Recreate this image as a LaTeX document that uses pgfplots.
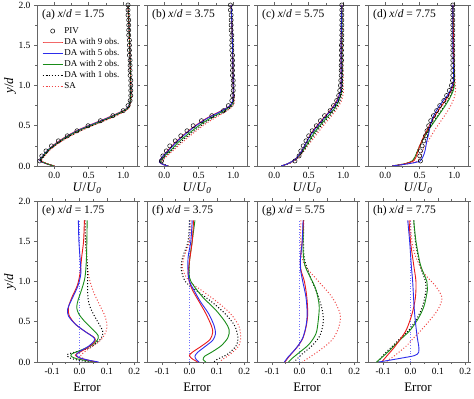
\documentclass[border=0pt]{standalone}
\usepackage{fontspec}
\setmainfont{Liberation Serif}
\usepackage{pgfplots}
\pgfplotsset{compat=1.18}
\definecolor{cRed}{RGB}{235,25,25}
\definecolor{cBlue}{RGB}{45,45,235}
\definecolor{cGreen}{RGB}{25,140,25}
\definecolor{cSA}{RGB}{240,70,70}
\pgfplotsset{
  base/.style={
    scale only axis, width=100pt, height=161pt,
    ymin=0, ymax=2, ytick={0,0.5,1,1.5,2}, minor y tick num=1,
    tick align=outside,
    axis line style={black!60, line width=0.8pt},
    tick style={black!60, line width=0.6pt},
    major tick length=3pt, minor tick length=1.8pt,
    tick label style={font=\fontsize{9.5}{11}\selectfont},
    /pgf/number format/fixed, /pgf/number format/fixed zerofill,
    /pgf/number format/precision=1, /pgf/number format/assume math mode=true,
    label style={font=\fontsize{13}{15}\selectfont},
    clip=true,
  },
  toprow/.style={base, xmin=-0.25, xmax=1.2, xtick={0,0.5,1}, minor x tick num=1,
    xlabel={\textit{U}/\textit{U}\textsubscript{\textit{0}}}, xlabel style={yshift=3pt}},
  botrow/.style={base, xmin=-0.155, xmax=0.21, xtick={-0.1,0,0.1,0.2}, minor x tick num=1,
    xlabel={Error}, xlabel style={yshift=-1pt}},
  first/.style={ylabel={\textit{y}/\textit{d}}, ylabel style={at={(rel axis cs:-0.27,0.5)}, anchor=center, rotate=0}},
  other/.style={yticklabels={}},
  piv/.style={only marks, mark=o, mark size=2.1pt, black, mark options={line width=0.5pt}},
  da9/.style={cRed, line width=0.9pt, no marks, smooth, tension=0.5},
  da5/.style={cBlue, line width=0.9pt, no marks, smooth, tension=0.5},
  da2/.style={cGreen, line width=0.9pt, no marks, smooth, tension=0.5},
  da1/.style={black, dotted, line width=1pt, no marks, smooth, tension=0.5},
  sa/.style={cSA, dotted, line width=1pt, no marks, smooth, tension=0.5},
  zl/.style={blue!55, dotted, line width=0.7pt, no marks},
}
\newcommand{\plabel}[1]{\node[anchor=north west, inner sep=0pt, font=\fontsize{11.5}{13}\selectfont] at (rel axis cs:0.05,0.975) {#1};}
\begin{document}
\begin{tikzpicture}
\useasboundingbox (0,0) rectangle (474pt,399pt);
% ---------------- (a)
\begin{axis}[toprow, first, at={(37pt,233pt)}, anchor=south west,
  legend style={at={(rel axis cs:0.05,0.87)}, anchor=north west, draw=none, fill=none,
    font=\fontsize{9}{10}\selectfont, row sep=1pt, inner sep=0pt,
    nodes={inner sep=1.2pt}},
  legend cell align=left,
  legend image code/.code={\draw[mark repeat=2,mark phase=2,#1] plot coordinates {(0pt,0pt) (10pt,0pt) (20pt,0pt)};}]
\addplot[piv] coordinates {(-0.21,0.0625) (-0.18,0.125) (-0.12,0.1875) (-0.04,0.25) (0.06,0.3125) (0.19,0.375) (0.33,0.4375) (0.49,0.5) (0.67,0.5625) (0.85,0.625) (1.00,0.6875) (1.07,0.75) (1.10,0.8125) (1.11,0.875) (1.11,0.9375) (1.11,1.0) (1.11,1.0625) (1.10,1.125) (1.10,1.1875) (1.10,1.25) (1.10,1.3125) (1.09,1.375) (1.09,1.4375) (1.09,1.5) (1.09,1.5625) (1.08,1.625) (1.08,1.6875) (1.08,1.75) (1.08,1.8125) (1.07,1.875) (1.07,1.9375) (1.07,2.0)};
\addlegendentry{PIV}
\addplot[da9] coordinates {(0,0) (-0.12,0.03) (-0.21,0.07) (-0.17,0.12) (-0.09,0.2) (0.02,0.28) (0.16,0.36) (0.33,0.44) (0.52,0.51) (0.72,0.58) (0.92,0.655) (1.06,0.72) (1.10,0.8) (1.11,0.9) (1.11,1.0) (1.10,1.3) (1.09,1.6) (1.07,2.0)};
\addlegendentry{DA with 9 obs.}
\addplot[da5] coordinates {(0,0) (-0.12,0.03) (-0.21,0.07) (-0.17,0.12) (-0.09,0.2) (0.03,0.28) (0.17,0.36) (0.34,0.44) (0.53,0.51) (0.73,0.58) (0.93,0.655) (1.06,0.72) (1.10,0.8) (1.11,0.9) (1.11,1.0) (1.10,1.3) (1.09,1.6) (1.07,2.0)};
\addlegendentry{DA with 5 obs.}
\addplot[da2] coordinates {(0,0) (-0.11,0.03) (-0.20,0.07) (-0.16,0.12) (-0.08,0.2) (0.04,0.28) (0.18,0.36) (0.36,0.44) (0.55,0.51) (0.75,0.58) (0.94,0.655) (1.07,0.72) (1.10,0.8) (1.11,0.9) (1.11,1.0) (1.10,1.3) (1.09,1.6) (1.07,2.0)};
\addlegendentry{DA with 2 obs.}
\addplot[da1] coordinates {(0,0) (-0.11,0.03) (-0.20,0.07) (-0.15,0.12) (-0.07,0.2) (0.05,0.28) (0.20,0.36) (0.38,0.44) (0.57,0.51) (0.77,0.58) (0.96,0.655) (1.08,0.72) (1.11,0.8) (1.11,0.9) (1.11,1.0) (1.10,1.3) (1.09,1.6) (1.07,2.0)};
\addlegendentry{DA with 1 obs.}
\addplot[sa] coordinates {(0,0) (-0.10,0.03) (-0.19,0.07) (-0.14,0.12) (-0.06,0.2) (0.06,0.28) (0.21,0.36) (0.39,0.44) (0.58,0.51) (0.78,0.58) (0.97,0.655) (1.08,0.72) (1.11,0.8) (1.12,0.9) (1.11,1.0) (1.10,1.3) (1.09,1.6) (1.07,2.0)};
\addlegendentry{SA}
\plabel{(a) \textit{x}/\textit{d} = 1.75}
\end{axis}
% ---------------- (b)
\begin{axis}[toprow, other, at={(147pt,233pt)}, anchor=south west]
\addplot[piv] coordinates {(-0.04,0.0625) (-0.02,0.125) (0.03,0.1875) (0.08,0.25) (0.16,0.3125) (0.24,0.375) (0.33,0.4375) (0.42,0.5) (0.54,0.5625) (0.69,0.625) (0.86,0.6875) (0.93,0.75) (0.98,0.8125) (0.99,0.875) (1.0,0.9375) (1.0,1.0) (1.0,1.0625) (0.99,1.125) (0.99,1.1875) (0.99,1.25) (0.99,1.3125) (0.99,1.375) (0.98,1.4375) (0.98,1.5) (0.98,1.5625) (0.98,1.625) (0.97,1.6875) (0.97,1.75) (0.97,1.8125) (0.97,1.875) (0.96,1.9375) (0.96,2.0)};
\addplot[sa] coordinates {(0.06,0) (0.0,0.02) (-0.04,0.05) (0.0,0.09) (0.06,0.14) (0.14,0.2) (0.27,0.3) (0.41,0.4) (0.56,0.5) (0.72,0.59) (0.88,0.67) (0.99,0.74) (1.02,0.8) (1.01,0.9) (1.0,1.0) (0.99,1.5) (0.97,2.0)};
\addplot[da1] coordinates {(0.06,0) (0.0,0.02) (-0.05,0.05) (-0.02,0.09) (0.04,0.14) (0.12,0.2) (0.24,0.3) (0.38,0.4) (0.53,0.5) (0.69,0.59) (0.86,0.67) (0.98,0.74) (1.01,0.8) (1.01,0.9) (1.0,1.0) (0.99,1.5) (0.97,2.0)};
\addplot[da2] coordinates {(0.05,0) (-0.01,0.02) (-0.06,0.05) (-0.03,0.09) (0.02,0.14) (0.10,0.2) (0.21,0.3) (0.35,0.4) (0.50,0.5) (0.66,0.59) (0.83,0.67) (0.96,0.74) (1.0,0.8) (1.0,0.9) (1.0,1.0) (0.99,1.5) (0.97,2.0)};
\addplot[da9] coordinates {(0.05,0) (-0.02,0.02) (-0.07,0.05) (-0.05,0.09) (0.0,0.14) (0.06,0.2) (0.17,0.3) (0.30,0.4) (0.45,0.5) (0.61,0.59) (0.79,0.67) (0.94,0.74) (0.99,0.8) (1.0,0.9) (1.0,1.0) (0.99,1.5) (0.97,2.0)};
\addplot[da5] coordinates {(0.05,0) (-0.02,0.02) (-0.07,0.05) (-0.05,0.09) (0.0,0.14) (0.07,0.2) (0.18,0.3) (0.31,0.4) (0.46,0.5) (0.62,0.59) (0.80,0.67) (0.94,0.74) (0.99,0.8) (1.0,0.9) (1.0,1.0) (0.99,1.5) (0.97,2.0)};
\plabel{(b) \textit{x}/\textit{d} = 3.75}
\end{axis}
% ---------------- (c)
\begin{axis}[toprow, other, at={(257pt,233pt)}, anchor=south west]
\addplot[piv] coordinates {(0.30,0.0625) (0.36,0.125) (0.385,0.1875) (0.42,0.25) (0.46,0.3125) (0.50,0.375) (0.55,0.4375) (0.61,0.5) (0.67,0.5625) (0.73,0.625) (0.81,0.6875) (0.86,0.75) (0.905,0.8125) (0.935,0.875) (0.95,0.9375) (0.96,1.0) (0.965,1.0625) (0.97,1.125) (0.97,1.1875) (0.97,1.25) (0.975,1.3125) (0.975,1.375) (0.975,1.4375) (0.975,1.5) (0.98,1.5625) (0.98,1.625) (0.98,1.6875) (0.98,1.75) (0.98,1.8125) (0.98,1.875) (0.98,1.9375) (0.98,2.0)};
\addplot[sa] coordinates {(0.1,0) (0.22,0.03) (0.32,0.08) (0.40,0.15) (0.46,0.22) (0.53,0.3) (0.62,0.4) (0.71,0.5) (0.81,0.6) (0.90,0.7) (0.97,0.8) (1.0,0.9) (1.0,1.0) (0.99,1.5) (0.98,2.0)};
\addplot[da1] coordinates {(0.1,0) (0.21,0.03) (0.31,0.08) (0.39,0.15) (0.45,0.22) (0.51,0.3) (0.59,0.4) (0.68,0.5) (0.78,0.6) (0.88,0.7) (0.95,0.8) (0.98,0.9) (0.99,1.0) (0.98,1.5) (0.98,2.0)};
\addplot[da2] coordinates {(0.1,0) (0.2,0.03) (0.3,0.08) (0.38,0.15) (0.44,0.22) (0.50,0.3) (0.57,0.4) (0.66,0.5) (0.76,0.6) (0.86,0.7) (0.93,0.8) (0.97,0.9) (0.98,1.0) (0.98,1.5) (0.98,2.0)};
\addplot[da9] coordinates {(0.1,0) (0.2,0.03) (0.3,0.08) (0.37,0.15) (0.42,0.22) (0.47,0.3) (0.53,0.4) (0.62,0.5) (0.72,0.6) (0.82,0.7) (0.90,0.8) (0.95,0.9) (0.97,1.0) (0.97,1.5) (0.98,2.0)};
\addplot[da5] coordinates {(0.1,0) (0.2,0.03) (0.3,0.08) (0.37,0.15) (0.42,0.22) (0.47,0.3) (0.54,0.4) (0.63,0.5) (0.73,0.6) (0.83,0.7) (0.91,0.8) (0.95,0.9) (0.97,1.0) (0.97,1.5) (0.98,2.0)};
\plabel{(c) \textit{x}/\textit{d} = 5.75}
\end{axis}
% ---------------- (d)
\begin{axis}[toprow, other, at={(368pt,233pt)}, anchor=south west]
\addplot[piv] coordinates {(0.51,0.0625) (0.50,0.125) (0.51,0.1875) (0.535,0.25) (0.56,0.3125) (0.585,0.375) (0.605,0.4375) (0.63,0.5) (0.66,0.5625) (0.70,0.625) (0.745,0.6875) (0.79,0.75) (0.85,0.8125) (0.89,0.875) (0.93,0.9375) (0.96,1.0) (0.975,1.0625) (0.98,1.125) (0.98,1.1875) (0.98,1.25) (0.98,1.3125) (0.98,1.375) (0.98,1.4375) (0.98,1.5) (0.98,1.5625) (0.98,1.625) (0.98,1.6875) (0.98,1.75) (0.98,1.8125) (0.98,1.875) (0.98,1.9375) (0.98,2.0)};
\addplot[sa] coordinates {(0.1,0) (0.35,0.03) (0.48,0.07) (0.52,0.15) (0.58,0.25) (0.65,0.35) (0.72,0.45) (0.80,0.55) (0.88,0.65) (0.95,0.75) (1.0,0.85) (1.02,0.95) (1.01,1.1) (0.99,1.5) (0.98,2.0)};
\addplot[da1] coordinates {(0.1,0) (0.3,0.03) (0.40,0.07) (0.45,0.15) (0.50,0.25) (0.56,0.35) (0.62,0.45) (0.70,0.55) (0.78,0.65) (0.86,0.75) (0.93,0.85) (0.98,0.95) (1.0,1.05) (0.99,1.5) (0.98,2.0)};
\addplot[da2] coordinates {(0.1,0) (0.3,0.03) (0.40,0.07) (0.45,0.15) (0.50,0.25) (0.56,0.35) (0.63,0.45) (0.71,0.55) (0.79,0.65) (0.87,0.75) (0.94,0.85) (0.99,0.95) (1.0,1.05) (0.99,1.5) (0.98,2.0)};
\addplot[da9] coordinates {(0.1,0) (0.3,0.03) (0.42,0.07) (0.46,0.15) (0.50,0.25) (0.55,0.35) (0.61,0.45) (0.67,0.55) (0.74,0.65) (0.82,0.75) (0.90,0.85) (0.96,0.95) (0.99,1.05) (0.99,1.5) (0.98,2.0)};
\addplot[da5] coordinates {(0.1,0) (0.35,0.03) (0.50,0.06) (0.55,0.12) (0.58,0.2) (0.60,0.3) (0.63,0.4) (0.65,0.5) (0.69,0.6) (0.75,0.7) (0.83,0.8) (0.92,0.9) (0.97,1.0) (0.99,1.1) (0.98,1.5) (0.98,2.0)};
\plabel{(d) \textit{x}/\textit{d} = 7.75}
\end{axis}
% ---------------- (e)
\begin{axis}[botrow, first, at={(37pt,37pt)}, anchor=south west]
\addplot[zl] coordinates {(0,0) (0,1.76)};
\addplot[sa] coordinates {(0.02,1.76) (0.022,1.5) (0.027,1.25) (0.035,1.05) (0.05,0.88) (0.072,0.72) (0.092,0.58) (0.1,0.47) (0.097,0.38) (0.08,0.28) (0.05,0.2) (0.02,0.13) (0.005,0.08) (0.015,0.04) (0.045,0.0)};
\addplot[da1] coordinates {(0.02,1.76) (0.022,1.5) (0.028,1.25) (0.03,1.05) (0.03,0.85) (0.035,0.72) (0.05,0.6) (0.07,0.48) (0.085,0.38) (0.08,0.3) (0.06,0.23) (0.025,0.16) (-0.02,0.12) (-0.045,0.09) (-0.035,0.05) (0.0,0.02) (0.04,0.0)};
\addplot[da2] coordinates {(0.028,1.76) (0.027,1.5) (0.025,1.25) (0.02,1.05) (0.008,0.9) (-0.005,0.77) (-0.01,0.68) (-0.003,0.6) (0.02,0.5) (0.05,0.4) (0.068,0.33) (0.065,0.27) (0.04,0.2) (0.0,0.14) (-0.028,0.1) (-0.03,0.07) (-0.01,0.04) (0.03,0.015) (0.06,0.0)};
\addplot[da9] coordinates {(0.018,1.76) (0.015,1.5) (0.008,1.3) (0.002,1.1) (-0.008,0.95) (-0.028,0.8) (-0.04,0.68) (-0.038,0.58) (-0.015,0.47) (0.02,0.38) (0.055,0.3) (0.055,0.25) (0.03,0.18) (0.0,0.12) (-0.015,0.085) (0.0,0.05) (0.035,0.02) (0.065,0.0)};
\addplot[da5] coordinates {(-0.004,1.76) (-0.002,1.5) (0.003,1.25) (0.005,1.1) (-0.005,0.95) (-0.025,0.8) (-0.043,0.66) (-0.04,0.57) (-0.015,0.47) (0.02,0.38) (0.05,0.31) (0.055,0.27) (0.035,0.2) (0.005,0.14) (-0.01,0.1) (-0.005,0.06) (0.03,0.025) (0.07,0.0)};
\plabel{(e) \textit{x}/\textit{d} = 1.75}
\end{axis}
% ---------------- (f)
\begin{axis}[botrow, other, at={(147pt,37pt)}, anchor=south west]
\addplot[zl] coordinates {(0,0) (0,1.76)};
\addplot[sa] coordinates {(0.005,1.76) (0.0,1.5) (-0.02,1.3) (-0.025,1.15) (0.0,1.0) (0.04,0.9) (0.1,0.75) (0.15,0.6) (0.18,0.45) (0.187,0.32) (0.18,0.2) (0.15,0.1) (0.12,0.03) (0.11,0.0)};
\addplot[da1] coordinates {(0.0,1.76) (-0.005,1.5) (-0.025,1.3) (-0.03,1.15) (-0.015,1.0) (0.02,0.9) (0.08,0.75) (0.13,0.6) (0.165,0.45) (0.177,0.3) (0.17,0.2) (0.14,0.1) (0.1,0.03) (0.09,0.0)};
\addplot[da2] coordinates {(0.02,1.76) (0.01,1.5) (0.0,1.25) (0.0,1.05) (0.015,0.95) (0.05,0.8) (0.095,0.65) (0.13,0.5) (0.145,0.4) (0.14,0.3) (0.115,0.2) (0.08,0.12) (0.055,0.07) (0.05,0.03) (0.06,0.0)};
\addplot[da9] coordinates {(0.015,1.76) (0.01,1.5) (0.0,1.25) (-0.005,1.1) (0.0,1.0) (0.01,0.9) (0.035,0.75) (0.06,0.6) (0.08,0.45) (0.085,0.37) (0.075,0.28) (0.045,0.2) (0.01,0.12) (0.0,0.08) (0.01,0.04) (0.03,0.0)};
\addplot[da5] coordinates {(0.01,1.76) (0.005,1.5) (-0.005,1.3) (-0.005,1.1) (0.0,1.0) (0.015,0.9) (0.04,0.75) (0.07,0.6) (0.09,0.45) (0.095,0.35) (0.085,0.27) (0.06,0.2) (0.03,0.12) (0.02,0.07) (0.025,0.03) (0.035,0.0)};
\plabel{(f) \textit{x}/\textit{d} = 3.75}
\end{axis}
% ---------------- (g)
\begin{axis}[botrow, other, at={(257pt,37pt)}, anchor=south west]
\addplot[zl] coordinates {(0,0) (0,1.76)};
\addplot[sa] coordinates {(0.005,1.76) (0.005,1.4) (0.02,1.2) (0.07,1.0) (0.12,0.8) (0.148,0.6) (0.145,0.45) (0.125,0.3) (0.095,0.2) (0.055,0.1) (0.01,0.0)};
\addplot[da1] coordinates {(0.015,1.76) (0.015,1.4) (0.02,1.25) (0.04,1.05) (0.065,0.85) (0.083,0.65) (0.087,0.5) (0.075,0.33) (0.045,0.2) (0.01,0.1) (-0.02,0.0)};
\addplot[da2] coordinates {(0.015,1.76) (0.013,1.4) (0.02,1.2) (0.04,1.05) (0.06,0.9) (0.072,0.7) (0.068,0.5) (0.06,0.35) (0.035,0.22) (0.0,0.12) (-0.025,0.05) (-0.04,0.0)};
\addplot[da9] coordinates {(0.015,1.76) (0.01,1.5) (0.004,1.3) (0.005,1.15) (0.018,1.0) (0.027,0.8) (0.03,0.6) (0.025,0.45) (0.013,0.3) (-0.005,0.2) (-0.022,0.13) (-0.04,0.06) (-0.053,0.0)};
\addplot[da5] coordinates {(0.013,1.76) (0.01,1.5) (0.004,1.3) (0.004,1.15) (0.012,1.0) (0.024,0.8) (0.028,0.6) (0.024,0.45) (0.012,0.3) (-0.006,0.2) (-0.023,0.13) (-0.042,0.06) (-0.055,0.0)};
\plabel{(g) \textit{x}/\textit{d} = 5.75}
\end{axis}
% ---------------- (h)
\begin{axis}[botrow, other, at={(368pt,37pt)}, anchor=south west]
\addplot[zl] coordinates {(0,0) (0,1.76)};
\addplot[sa] coordinates {(0.0,1.76) (0.005,1.5) (0.02,1.3) (0.05,1.1) (0.09,0.95) (0.115,0.8) (0.1,0.65) (0.066,0.5) (0.035,0.38) (0.012,0.3) (-0.015,0.2) (-0.05,0.1) (-0.09,0.0)};
\addplot[da1] coordinates {(0.012,1.76) (0.018,1.5) (0.035,1.2) (0.055,1.0) (0.057,0.9) (0.045,0.7) (0.025,0.55) (-0.005,0.4) (-0.035,0.3) (-0.065,0.2) (-0.095,0.1) (-0.12,0.0)};
\addplot[da2] coordinates {(0.012,1.76) (0.02,1.5) (0.037,1.2) (0.06,1.0) (0.062,0.9) (0.05,0.7) (0.03,0.55) (0.0,0.4) (-0.03,0.3) (-0.06,0.2) (-0.09,0.1) (-0.124,0.0)};
\addplot[da9] coordinates {(-0.005,1.76) (0.0,1.5) (0.012,1.2) (0.02,1.0) (0.018,0.8) (0.006,0.6) (-0.015,0.4) (-0.04,0.27) (-0.062,0.17) (-0.085,0.08) (-0.105,0.0)};
\addplot[da5] coordinates {(-0.01,1.76) (-0.003,1.5) (0.003,1.2) (0.008,1.0) (0.013,0.7) (0.018,0.5) (0.025,0.3) (0.03,0.2) (0.03,0.12) (0.015,0.08) (-0.03,0.05) (-0.08,0.02) (-0.115,0.0)};
\plabel{(h) \textit{x}/\textit{d} = 7.75}
\end{axis}
\end{tikzpicture}
\end{document}
